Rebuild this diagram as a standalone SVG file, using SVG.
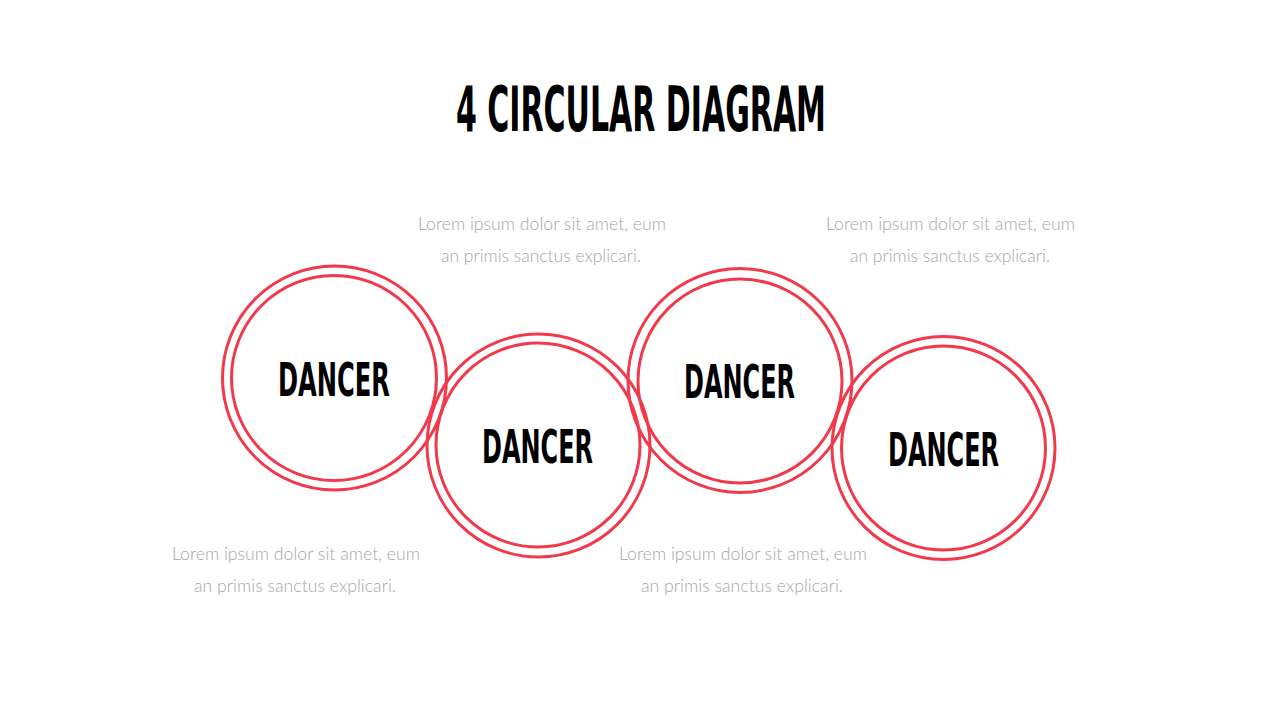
<svg xmlns="http://www.w3.org/2000/svg" width="1280" height="720" viewBox="0 0 1280 720">
  <style>
    .ring { fill: none; stroke: #f03a4b; stroke-width: 3; }
    .title { font-family: "Liberation Sans Narrow", "DejaVu Sans Condensed", "Liberation Sans", sans-serif; font-weight: bold; font-size: 63px; fill: #000; }
    .label { font-family: "Liberation Sans Narrow", "DejaVu Sans Condensed", "Liberation Sans", sans-serif; font-weight: bold; font-size: 47px; fill: #000; }
    .desc { font-family: Lato, "Open Sans", "Liberation Sans", sans-serif; font-weight: 300; font-size: 18px; fill: #a6a6a6; }
  </style>
  <rect width="1280" height="720" fill="#ffffff"/>
  <text class="title" x="456" y="131" textLength="370" lengthAdjust="spacingAndGlyphs">4 CIRCULAR DIAGRAM</text>

  <g id="connectors"></g>

  <g id="node1">
    <circle class="ring" cx="334.5" cy="378" r="112"/>
    <circle class="ring" cx="334" cy="378" r="102.5"/>
    <text class="label" x="278" y="396" textLength="112" lengthAdjust="spacingAndGlyphs">DANCER</text>
  </g>
  <g id="node2">
    <circle class="ring" cx="538.5" cy="445.5" r="111.5"/>
    <circle class="ring" cx="538" cy="445" r="102"/>
    <text class="label" x="482" y="463" textLength="111" lengthAdjust="spacingAndGlyphs">DANCER</text>
  </g>
  <g id="node3">
    <circle class="ring" cx="740" cy="380.5" r="112"/>
    <circle class="ring" cx="740" cy="381" r="102"/>
    <text class="label" x="684" y="398" textLength="111" lengthAdjust="spacingAndGlyphs">DANCER</text>
  </g>
  <g id="node4">
    <circle class="ring" cx="943.5" cy="448" r="111.5"/>
    <circle class="ring" cx="943.5" cy="448" r="102"/>
    <text class="label" x="888" y="466" textLength="111" lengthAdjust="spacingAndGlyphs">DANCER</text>
  </g>

  <g id="desc1">
    <text class="desc" x="418" y="230" textLength="248" lengthAdjust="spacingAndGlyphs">Lorem ipsum dolor sit amet, eum</text>
    <text class="desc" x="441" y="262" textLength="200" lengthAdjust="spacingAndGlyphs">an primis sanctus explicari.</text>
  </g>
  <g id="desc2">
    <text class="desc" x="826" y="230" textLength="249" lengthAdjust="spacingAndGlyphs">Lorem ipsum dolor sit amet, eum</text>
    <text class="desc" x="850" y="262" textLength="200" lengthAdjust="spacingAndGlyphs">an primis sanctus explicari.</text>
  </g>
  <g id="desc3">
    <text class="desc" x="172" y="560" textLength="248" lengthAdjust="spacingAndGlyphs">Lorem ipsum dolor sit amet, eum</text>
    <text class="desc" x="194" y="592" textLength="202" lengthAdjust="spacingAndGlyphs">an primis sanctus explicari.</text>
  </g>
  <g id="desc4">
    <text class="desc" x="619" y="560" textLength="248" lengthAdjust="spacingAndGlyphs">Lorem ipsum dolor sit amet, eum</text>
    <text class="desc" x="641" y="592" textLength="202" lengthAdjust="spacingAndGlyphs">an primis sanctus explicari.</text>
  </g>
</svg>
